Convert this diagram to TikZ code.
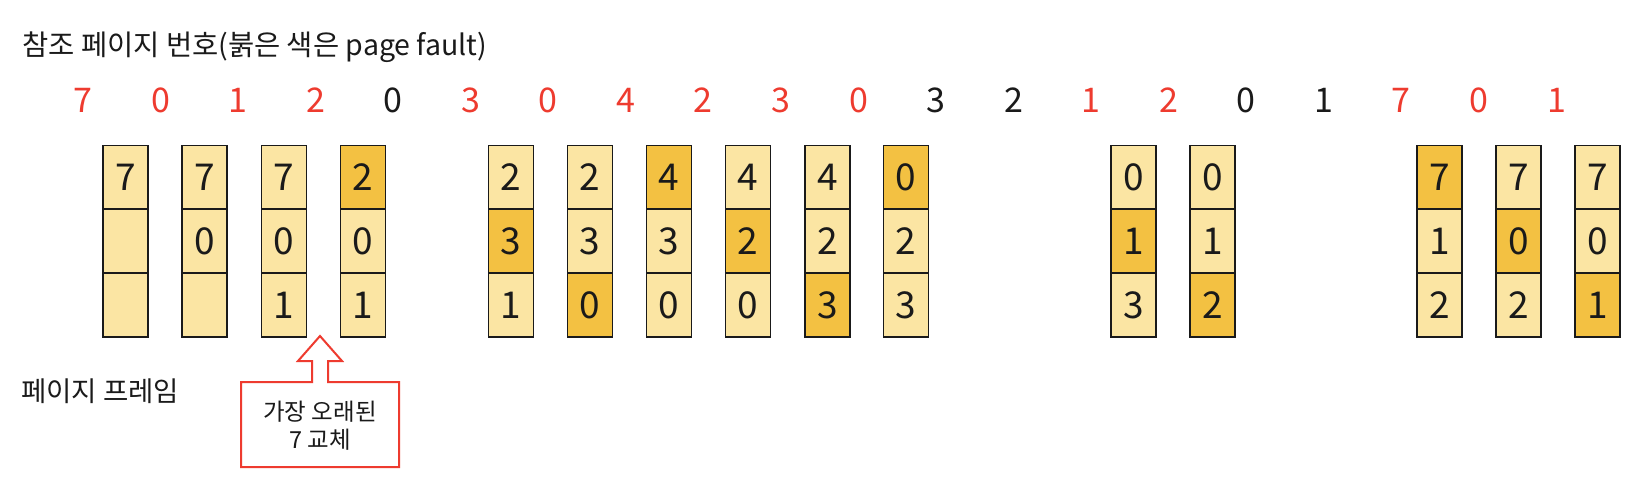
\documentclass[tikz,border=0pt]{standalone}
\usepackage{fontspec}
\setmainfont{Noto Sans CJK KR}
\definecolor{lightY}{HTML}{FBE5A3}
\definecolor{darkY}{HTML}{F3C142}
\definecolor{faultR}{HTML}{EE3B2F}
\definecolor{ink}{HTML}{1A1A1A}
\newcommand\framecol[8]{%
  \node[cell,#6] (#1-1) at (#2,177.5) {#3};
  \node[cell,#7] (#1-2) at (#2,241) {#4};
  \node[cell,#8] (#1-3) at (#2,305) {#5};
}
\begin{document}
\begin{tikzpicture}[x=1pt,y=-1pt,
  cell/.style={draw=ink, line width=1.6pt, minimum width=45pt, minimum height=64pt,
    inner sep=0pt, text=ink, font=\fontsize{37}{37}\selectfont},
  lo/.style={fill=lightY},
  hi/.style={fill=darkY},
  refnum/.style={inner sep=0pt, font=\fontsize{34}{34}\selectfont},
  flt/.style={refnum, text=faultR},
  hit/.style={refnum, text=ink},
  label/.style={inner sep=0pt, anchor=west, text=ink, font=\fontsize{27.5}{32}\selectfont},
  title/.style={label, font=\fontsize{28.5}{32}\selectfont},
  callout/.style={draw=faultR, line width=2pt, fill=white, line join=miter},
  note/.style={inner sep=0pt, align=center, text=ink, font=\fontsize{23.5}{28}\selectfont}
]
\useasboundingbox (0,0) rectangle (1650,488);
\fill[white] (0,0) rectangle (1650,488);

% title
\node[title] (title) at (22,47) {참조 페이지 번호(붉은 색은 page fault)};

% reference string
\foreach \v/\s [count=\i from 0] in {7/flt,0/flt,1/flt,2/flt,0/hit,3/flt,0/flt,4/flt,2/flt,3/flt,0/flt,3/hit,2/hit,1/flt,2/flt,0/hit,1/hit,7/flt,0/flt,1/flt}{
  \node[\s] (r\i) at (83+77.55*\i,100) {\v};
}

% page frames
\framecol{c1}{125.5}{7}{}{}{lo}{lo}{lo}
\framecol{c2}{204.5}{7}{0}{}{lo}{lo}{lo}
\framecol{c3}{284}{7}{0}{1}{lo}{lo}{lo}
\framecol{c4}{363}{2}{0}{1}{hi}{lo}{lo}
\framecol{c5}{511}{2}{3}{1}{lo}{hi}{lo}
\framecol{c6}{590}{2}{3}{0}{lo}{lo}{hi}
\framecol{c7}{669}{4}{3}{0}{hi}{lo}{lo}
\framecol{c8}{748}{4}{2}{0}{lo}{hi}{lo}
\framecol{c9}{827.5}{4}{2}{3}{lo}{lo}{hi}
\framecol{c10}{906}{0}{2}{3}{hi}{lo}{lo}
\framecol{c11}{1133.5}{0}{1}{3}{lo}{hi}{lo}
\framecol{c12}{1212.5}{0}{1}{2}{lo}{lo}{hi}
\framecol{c13}{1439.5}{7}{1}{2}{hi}{lo}{lo}
\framecol{c14}{1518.5}{7}{0}{2}{lo}{hi}{lo}
\framecol{c15}{1597.5}{7}{0}{1}{lo}{lo}{hi}

% frame label
\node[label] (framelabel) at (21,391) {페이지 프레임};

% callout
\coordinate (tip) at (320,336);
\draw[callout] (241,382) -- (312,382) -- (312,361) -- (298,361) -- (tip)
  -- (342,361) -- (328,361) -- (328,382) -- (399,382) -- (399,467) -- (241,467) -- cycle;
\node[note] (notetext) at (320,426) {가장 오래된\\7 교체};
\end{tikzpicture}
\end{document}
